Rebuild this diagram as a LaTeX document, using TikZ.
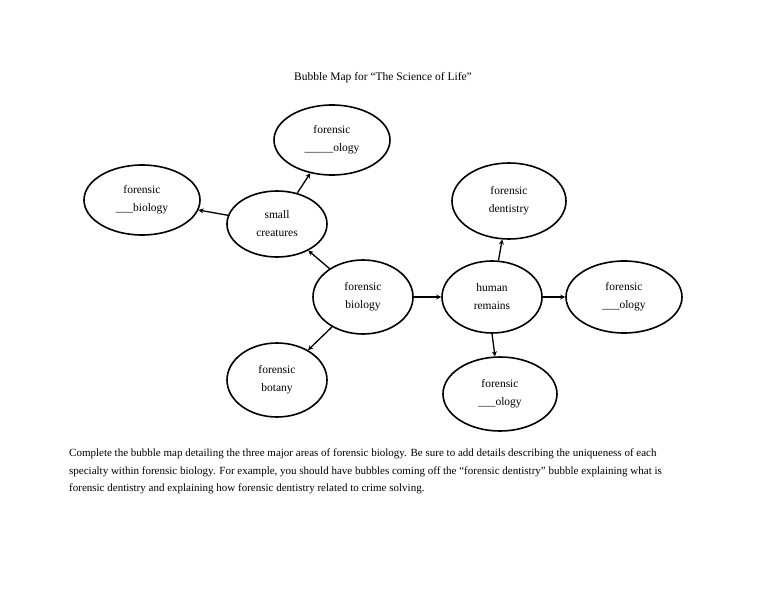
\documentclass[tikz,border=0pt]{standalone}
\usepackage{fontspec}
\setmainfont{Liberation Serif}
\usetikzlibrary{shapes.geometric,arrows.meta}
\begin{document}
\begin{tikzpicture}[x=1pt,y=-1pt,
  bub/.style={draw,line width=1.6pt,ellipse,minimum width=2*#1,align=center,font=\fontsize{11.5}{18}\selectfont,inner sep=0pt},
  arr/.style={line width=1.3pt,-{Stealth[length=5pt,width=5pt]},shorten >=0pt}]
\useasboundingbox (0,0) rectangle (768,594);
\node (t) at (383,78) {\fontsize{11.5}{14}\selectfont Bubble Map for ``The Science of Life''};
\node[bub=58pt,minimum height=70pt] (o1) at (332,140) {forensic\\\_\_\_\_\_ology};
\node[bub=58pt,minimum height=70pt] (bi) at (142,200) {forensic\\\_\_\_biology};
\node[bub=50pt,minimum height=66pt] (sc) at (277,224) {small\\creatures};
\node[bub=50pt,minimum height=74pt] (fb) at (363,297) {forensic\\biology};
\node[bub=50pt,minimum height=74pt] (bo) at (277,380) {forensic\\botany};
\node[bub=57pt,minimum height=76pt] (de) at (509,201) {forensic\\dentistry};
\node[bub=50pt,minimum height=72pt] (hr) at (492,297) {human\\remains};
\node[bub=58pt,minimum height=72pt] (o2) at (624,297) {forensic\\\_\_\_ology};
\node[bub=57pt,minimum height=74pt] (o3) at (500,394) {forensic\\\_\_\_ology};
\draw[arr] (fb) -- (sc);
\draw[arr] (sc) -- (bi);
\draw[arr] (sc) -- (o1);
\draw[arr] (fb) -- (bo);
\draw[arr] (fb) -- (hr);
\draw[arr] (hr) -- (de);
\draw[arr] (hr) -- (o2);
\draw[arr] (hr.south) -- (o3);
\node[anchor=north west,align=left,font=\fontsize{11}{17.5}\selectfont,inner sep=0pt] (p) at (69,449) {Complete the bubble map detailing the three major areas of forensic biology. Be sure to add details describing the uniqueness of each\\specialty within forensic biology. For example, you should have bubbles coming off the ``forensic dentistry'' bubble explaining what is\\forensic dentistry and explaining how forensic dentistry related to crime solving.};
\end{tikzpicture}
\end{document}
